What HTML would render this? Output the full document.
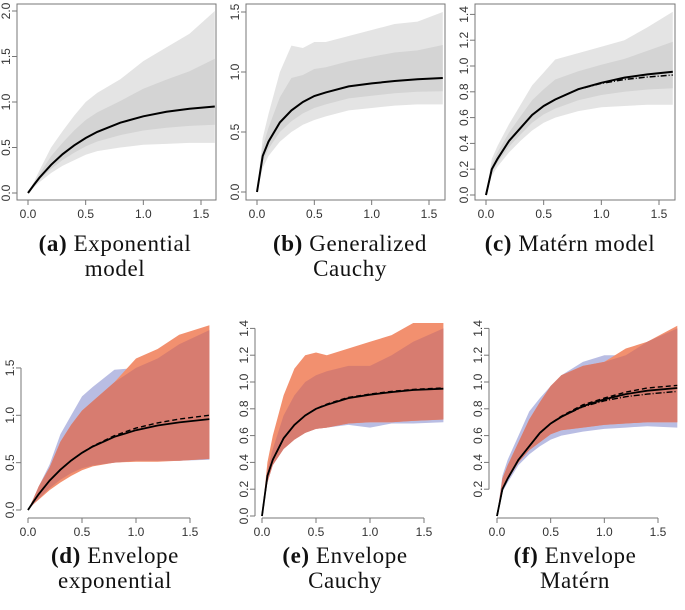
<!DOCTYPE html>
<html><head><meta charset="utf-8"><style>
body{margin:0;background:#fff;width:685px;height:605px;overflow:hidden}
svg text{font-family:"Liberation Sans",sans-serif}
.cap{font-family:"Liberation Serif",serif;font-size:23px;fill:#111;letter-spacing:0.6px}
</style></head><body>
<svg id="fig" width="685" height="605" xmlns="http://www.w3.org/2000/svg"></svg>
<script>
const xs=[0,0.05,0.1,0.2,0.3,0.4,0.5,0.6,0.8,1.0,1.2,1.4,1.62];
// top row: mean curves and grey cloud bounds
const meanA=[0,.088,.169,.31,.426,.523,.604,.671,.773,.843,.892,.925,.95];
const cloudUpA=[0,.12,.25,.5,.68,.85,1.0,1.1,1.25,1.45,1.6,1.75,2.0];
const cloudLoA=[0,.06,.12,.22,.3,.36,.42,.46,.5,.53,.54,.55,.55];
const meanB=[0,.3,.42,.58,.68,.75,.8,.83,.88,.905,.925,.94,.95];
const cloudUpB=[0,.45,.65,1.0,1.22,1.2,1.25,1.25,1.3,1.35,1.4,1.42,1.5];
const cloudLoB=[0,.2,.3,.42,.5,.56,.6,.63,.68,.7,.72,.73,.73];
const meanC=[0,.2,.28,.42,.52,.62,.69,.74,.82,.87,.91,.935,.955];
const altC=[0,.2,.28,.42,.52,.62,.69,.74,.82,.865,.895,.915,.93];
const cloudUpC=[0,.28,.38,.55,.7,.85,.95,1.05,1.1,1.15,1.2,1.3,1.42];
const cloudLoC=[0,.15,.22,.33,.42,.5,.56,.6,.65,.68,.69,.7,.7];
// bottom row envelopes
const xe=[0,0.05,0.1,0.2,0.3,0.4,0.5,0.6,0.8,1.0,1.2,1.4,1.68];
const blueUpD=[0,.12,.25,.48,.8,1.0,1.2,1.3,1.48,1.5,1.6,1.75,1.9];
const blueLoD=[0,.06,.12,.23,.32,.39,.44,.47,.5,.52,.52,.52,.53];
const redUpD=[0,.12,.25,.45,.72,.9,1.05,1.15,1.35,1.6,1.7,1.85,1.95];
const redLoD=[0,.06,.11,.21,.29,.36,.42,.46,.5,.51,.51,.52,.54];
const meanD=[0,.088,.169,.31,.426,.523,.604,.671,.773,.843,.892,.925,.96];
const dashD=[0,.088,.169,.31,.426,.523,.604,.675,.785,.865,.92,.96,1.0];
const blueUpE=[0,.35,.5,.75,.9,1.0,1.05,1.08,1.12,1.12,1.2,1.3,1.4];
const blueLoE=[0,.25,.38,.5,.57,.62,.65,.66,.68,.66,.69,.69,.7];
const redUpE=[0,.4,.6,.9,1.1,1.2,1.22,1.2,1.25,1.3,1.35,1.44,1.44];
const redLoE=[0,.25,.38,.5,.57,.62,.65,.66,.69,.7,.7,.71,.72];
const meanE=[0,.3,.42,.58,.68,.75,.8,.83,.88,.905,.925,.94,.95];
const dashE=[0,.3,.42,.58,.68,.75,.8,.835,.885,.91,.93,.945,.955];
const blueUpF=[0,.3,.42,.6,.78,.88,.97,1.05,1.15,1.2,1.2,1.3,1.4];
const blueLoF=[0,.18,.25,.38,.46,.52,.57,.6,.63,.65,.66,.67,.66];
const redUpF=[0,.28,.38,.55,.72,.85,.97,1.05,1.12,1.15,1.25,1.3,1.42];
const redLoF=[0,.2,.27,.4,.49,.55,.61,.64,.66,.68,.69,.7,.7];
const meanF=[0,.2,.28,.42,.52,.62,.69,.74,.82,.87,.91,.935,.955];
const dashF=[0,.2,.28,.42,.52,.62,.69,.745,.83,.88,.925,.955,.975];
const dotF=[0,.2,.28,.42,.52,.62,.69,.74,.815,.86,.89,.91,.93];
const xTicks=[0,0.5,1.0,1.5];
const yTicksA=[0,0.5,1.0,1.5,2.0];
const yTicksB=[0,0.5,1.0,1.5];
const yTicksC=[0,0.2,0.4,0.6,0.8,1.0,1.2,1.4];
const yTicksD=[0,0.5,1.0,1.5];
const yTicksF=[0.2,0.4,0.6,0.8,1.0,1.2,1.4];

const NS="http://www.w3.org/2000/svg";
const svg=document.getElementById('fig');
function mk(tag,parent){const e=document.createElementNS(NS,tag);parent.appendChild(e);return e;}
function pathD(X,Y,sx,sy){return X.map((x,i)=>(i?'L':'M')+sx(x).toFixed(1)+','+sy(Y[i]).toFixed(1)).join('');}
function bandD(X,U,L,sx,sy){let d=pathD(X,U,sx,sy);for(let i=X.length-1;i>=0;i--)d+='L'+sx(X[i]).toFixed(1)+','+sy(L[i]).toFixed(1);return d+'Z';}

function panel(id,c){
  const g=mk('g',svg);
  
  
  const sx=v=>c.x0+v*(c.x15-c.x0)/1.5;
  const sy=v=>c.y0-v*c.ypu;
  const clip=mk('clipPath',g);clip.setAttribute('id','cl'+id);
  const cr=mk('rect',clip);cr.setAttribute('x',c.left);cr.setAttribute('y',c.top);cr.setAttribute('width',c.right-c.left);cr.setAttribute('height',c.bottom-c.top);
  const pg=mk('g',g);pg.setAttribute('clip-path','url(#cl'+id+')');
  if(c.cloudU){
    const b=mk('path',pg);b.setAttribute('d',bandD(xs,c.cloudU,c.cloudL,sx,sy));b.setAttribute('fill','#e4e4e4');
    
    
    const inner=mk('path',pg);inner.setAttribute('d',bandD(xs,c.mean.map((v,i)=>(v+c.cloudU[i])/2),c.mean.map((v,i)=>(v+c.cloudL[i])/2),sx,sy));inner.setAttribute('fill','#d4d4d4');
    
    
    const ml=mk('path',pg);ml.setAttribute('d',pathD(xs,c.mean,sx,sy));ml.setAttribute('fill','none');ml.setAttribute('stroke','#000');ml.setAttribute('stroke-width','2');
    
    
    if(c.alt){const al=mk('path',pg);al.setAttribute('d',pathD(xs,c.alt,sx,sy));al.setAttribute('fill','none');al.setAttribute('stroke','#000');al.setAttribute('stroke-width','1.5');al.setAttribute('stroke-dasharray','6 2 1 2');
      
      }
  } else {
    const bb=mk('path',pg);bb.setAttribute('d',bandD(xe,c.bu,c.bl,sx,sy));bb.setAttribute('fill','#b9bde3');
    
    
    const rb=mk('path',pg);rb.setAttribute('d',bandD(xe,c.ru,c.rl,sx,sy));rb.setAttribute('fill','#f2906f');
    
    
    const ov=mk('path',pg);ov.setAttribute('d',bandD(xe,c.bu.map((v,i)=>Math.min(v,c.ru[i])),c.bl.map((v,i)=>Math.max(v,c.rl[i])),sx,sy));ov.setAttribute('fill','#d77c70');
    
    
    const lines=[[c.dash,'5 3',1.4],[c.dot,'6 2 1 2',1.4],[c.mean,null,1.8]];
    lines.forEach(l=>{if(!l[0])return;const p=mk('path',pg);p.setAttribute('d',pathD(xe,l[0],sx,sy));p.setAttribute('fill','none');p.setAttribute('stroke','#000');p.setAttribute('stroke-width',l[2]);if(l[1])p.setAttribute('stroke-dasharray',l[1]);
      
      });
  }
  if(c.frame){const r=mk('rect',g);r.setAttribute('x',c.left);r.setAttribute('y',c.top);r.setAttribute('width',c.right-c.left);r.setAttribute('height',c.bottom-c.top);r.setAttribute('fill','none');r.setAttribute('stroke','#777');
    
    }
  const ax=mk('line',g);ax.setAttribute('x1',sx(0));ax.setAttribute('x2',sx(1.5));ax.setAttribute('y1',c.axY);ax.setAttribute('y2',c.axY);ax.setAttribute('stroke','#777');
  
  
  xTicks.forEach(t=>{const tl=mk('line',g);tl.setAttribute('x1',sx(t));tl.setAttribute('x2',sx(t));tl.setAttribute('y1',c.axY);tl.setAttribute('y2',c.axY+5);tl.setAttribute('stroke','#777');
    const tx=mk('text',g);tx.setAttribute('x',sx(t));tx.setAttribute('y',c.axY+18);tx.setAttribute('text-anchor','middle');tx.setAttribute('font-size','12');tx.setAttribute('fill','#333');tx.textContent=t.toFixed(1);
    
    });
  const yt=c.yt;
  const ay=mk('line',g);ay.setAttribute('x1',c.axX);ay.setAttribute('x2',c.axX);ay.setAttribute('y1',sy(yt[0]));ay.setAttribute('y2',sy(yt[yt.length-1]));ay.setAttribute('stroke','#777');
  
  
  yt.forEach(t=>{const tl=mk('line',g);tl.setAttribute('x1',c.axX-5);tl.setAttribute('x2',c.axX);tl.setAttribute('y1',sy(t));tl.setAttribute('y2',sy(t));tl.setAttribute('stroke','#777');
    const tx=mk('text',g);const X=c.axX-7,Y=sy(t);tx.setAttribute('transform','translate('+X+','+Y+') rotate(-90)');tx.setAttribute('text-anchor','middle');tx.setAttribute('font-size','12');tx.setAttribute('fill','#333');tx.textContent=t.toFixed(1);
    
    });
  c.cap.forEach((ln,i)=>{const tx=mk('text',g);tx.setAttribute('class','cap');tx.setAttribute('x',c.capX);tx.setAttribute('y',c.capY+i*25);tx.setAttribute('text-anchor','middle');
    if(i===0){const b=mk('tspan',tx);b.setAttribute('font-weight','bold');b.textContent=c.lab+' ';const r=mk('tspan',tx);r.textContent=ln;}else tx.textContent=ln;
    
    });
}
panel('panel-a',{x0:28,x15:201,y0:193,ypu:91,left:17,right:216,top:4,bottom:200,frame:1,axY:200,axX:17,yt:yTicksA,mean:meanA,cloudU:cloudUpA,cloudL:cloudLoA,lab:'(a)',cap:['Exponential','model'],capX:115,capY:251});
panel('panel-b',{x0:257,x15:429,y0:192,ypu:120,left:246,right:445,top:4,bottom:200,frame:1,axY:200,axX:246,yt:yTicksB,mean:meanB,cloudU:cloudUpB,cloudL:cloudLoB,lab:'(b)',cap:['Generalized','Cauchy'],capX:350,capY:251});
panel('panel-c',{x0:486,x15:659,y0:195,ypu:129,left:475,right:675,top:4,bottom:200,frame:1,axY:200,axX:475,yt:yTicksC,mean:meanC,alt:altC,cloudU:cloudUpC,cloudL:cloudLoC,lab:'(c)',cap:['Matérn model'],capX:570,capY:251});
panel('panel-d',{x0:28,x15:190,y0:510,ypu:94.7,left:21,right:220,top:310,bottom:517,axY:518,axX:21,yt:yTicksD,bu:blueUpD,bl:blueLoD,ru:redUpD,rl:redLoD,mean:meanD,dash:dashD,lab:'(d)',cap:['Envelope','exponential'],capX:115,capY:563});
panel('panel-e',{x0:262,x15:424,y0:516,ypu:134,left:255,right:452,top:310,bottom:517,axY:518,axX:255,yt:yTicksC,bu:blueUpE,bl:blueLoE,ru:redUpE,rl:redLoE,mean:meanE,dash:dashE,lab:'(e)',cap:['Envelope','Cauchy'],capX:345,capY:563});
panel('panel-f',{x0:497,x15:658,y0:516,ypu:134,left:489,right:685,top:310,bottom:517,axY:518,axX:489,yt:yTicksF,bu:blueUpF,bl:blueLoF,ru:redUpF,rl:redLoF,mean:meanF,dash:dashF,dot:dotF,lab:'(f)',cap:['Envelope','Matérn'],capX:575,capY:563});
</script>
</body></html>
